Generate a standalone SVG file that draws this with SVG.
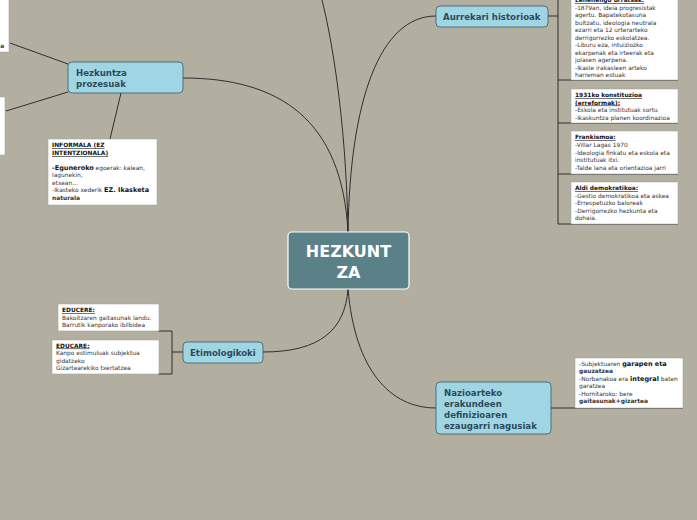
<svg xmlns="http://www.w3.org/2000/svg" width="697" height="520" viewBox="0 0 697 520">
<style>
.bg{fill:#b3afa0}
.main rect{fill:#5b8188;stroke:#ffffff;stroke-width:1.2}
.main text{fill:#ffffff;font-family:"DejaVu Sans",sans-serif;font-weight:bold;font-size:16px;text-anchor:middle}
.topic rect{fill:#a0d6e4;stroke:#3d5866;stroke-width:0.8}
.topic text{fill:#2e4a5a;font-family:"DejaVu Sans",sans-serif;font-weight:bold;font-size:8.6px}
.note rect{fill:#ffffff;stroke:#9a9a9a;stroke-width:0.5}
.note text{fill:#333333;font-family:"DejaVu Sans",sans-serif;font-size:5.9px}
.note .h{font-weight:bold;text-decoration:underline;fill:#111}
.b{font-weight:bold;fill:#111;font-size:6.5px}
.conn path,.conn line{fill:none;stroke:#2e2e2e;stroke-width:1}
</style>
<rect class="bg" x="0" y="0" width="697" height="520"/>
<g class="conn">
<path d="M348,232 C346,120 332,40 322,0"/>
<path d="M348,232 C350,100 380,16 436,16"/>
<path d="M348,232 C342,120 280,78 183,78"/>
<path d="M348,289 C345,330 320,352 263,352"/>
<path d="M348,289 C355,370 390,408 436,408"/>
<line x1="548" y1="16" x2="558" y2="16"/>
<line x1="558" y1="0" x2="558" y2="224"/>
<line x1="558" y1="80" x2="678" y2="80"/>
<line x1="558" y1="123" x2="678" y2="123"/>
<line x1="558" y1="174" x2="678" y2="174"/>
<line x1="558" y1="224" x2="678" y2="224"/>
<line x1="68" y1="64" x2="10" y2="43"/>
<line x1="68" y1="92" x2="6" y2="111"/>
<line x1="121" y1="93" x2="110" y2="139"/>
<line x1="183" y1="352" x2="172" y2="352"/>
<line x1="172" y1="331" x2="172" y2="374"/>
<line x1="158" y1="331" x2="172" y2="331"/>
<line x1="158" y1="374" x2="172" y2="374"/>
<line x1="551" y1="408" x2="683" y2="408"/>
</g>
<g id="n-left1" class="note"><rect x="-5" y="-2" width="14" height="54"/><text x="-3" y="25">\</text><text x="-6" y="48" class="b">ma</text></g>
<g id="n-left2" class="note"><rect x="-5" y="97" width="10" height="58"/></g>
<g id="n-center" class="main"><rect x="288" y="232" width="121" height="57" rx="4"/><text x="348.5" y="257">HEZKUNT</text><text x="348.5" y="278">ZA</text></g>
<g id="n-aurrekari" class="topic"><rect x="436" y="6" width="112" height="21" rx="4"/><text x="443" y="20">Aurrekari historioak</text></g>
<g id="n-hezkuntza" class="topic"><rect x="68" y="62" width="115" height="31" rx="4"/><text x="76" y="76">Hezkuntza</text><text x="76" y="87">prozesuak</text></g>
<g id="n-nazioarteko" class="topic"><rect x="436" y="382" width="115" height="52" rx="4"/><text x="444" y="396">Nazioarteko</text><text x="444" y="407">erakundeen</text><text x="444" y="418">definizioaren</text><text x="444" y="428.5">ezaugarri nagusiak</text></g>
<g id="n-etimo" class="topic"><rect x="183" y="342" width="80" height="21" rx="4"/><text x="190" y="356">Etimologikoki</text></g>
<g id="n-box1" class="note"><rect x="571" y="-4" width="107" height="84"/>
<text x="575" y="2" class="h">Lehenengo urratsak:</text>
<text x="575" y="9.5">-1879an, ideia progresistak</text>
<text x="575" y="17">agertu. Bapatekotasuna</text>
<text x="575" y="24.5">bultzatu, ideologia neutrala</text>
<text x="575" y="32">ezarri eta 12 urterarteko</text>
<text x="575" y="39.5">derrigorrezko eskolatzea.</text>
<text x="575" y="47">-Liburu eza, intuiziozko</text>
<text x="575" y="54.5">ekarpenak eta irteerak eta</text>
<text x="575" y="62">jolasen agerpena.</text>
<text x="575" y="69.5">-Ikasle irakasleen arteko</text>
<text x="575" y="77">harreman estuak</text></g>
<g id="n-box2" class="note"><rect x="571" y="89" width="107" height="34"/>
<text x="575" y="97" class="h">1931ko konstituzioa</text>
<text x="575" y="104.5" class="h">(erreformak):</text>
<text x="575" y="112">-Eskola eta institutuak sortu</text>
<text x="575" y="119.5">-Ikaskuntza planen koordinazioa</text></g>
<g id="n-box3" class="note"><rect x="571" y="131" width="107" height="43"/>
<text x="575" y="139" class="h">Frankismoa:</text>
<text x="575" y="147">-Villar Lagas 1970</text>
<text x="575" y="154.5">-Ideologia finkatu eta eskola eta</text>
<text x="575" y="162">institutuak itxi.</text>
<text x="575" y="170">-Talde lana eta orientazioa jarri</text></g>
<g id="n-box4" class="note"><rect x="571" y="182" width="107" height="42"/>
<text x="575" y="190" class="h">Aldi demokratikoa:</text>
<text x="575" y="197.5">-Gestio demokratikoa eta askea</text>
<text x="575" y="205">-Errespetuzko baloreak</text>
<text x="575" y="212.5">-Derrigorrezko hezkunta eta</text>
<text x="575" y="220">dohaia.</text></g>
<g id="n-informala" class="note"><rect x="48" y="139" width="109" height="66"/>
<text x="52" y="147" class="h">INFORMALA (EZ</text>
<text x="52" y="155" class="h">INTENTZIONALA)</text>
<text x="52" y="170"><tspan class="b">-Eguneroko</tspan> egoerak: kalean,</text>
<text x="52" y="177">lagunekin,</text>
<text x="52" y="185">etxean...</text>
<text x="52" y="192">-Ikasteko xederik <tspan class="b">EZ. Ikasketa</tspan></text>
<text x="52" y="200" class="b">naturala</text></g>
<g id="n-educere" class="note"><rect x="58" y="304" width="101" height="27"/>
<text x="62" y="312" class="h">EDUCERE:</text>
<text x="62" y="319.5">Bakoitzaren gaitasunak landu.</text>
<text x="62" y="327">Barrutik kanporako ibilbidea</text></g>
<g id="n-educare" class="note"><rect x="52" y="340" width="107" height="34"/>
<text x="56" y="347.5" class="h">EDUCARE:</text>
<text x="56" y="355">Kanpo estimuluak subjektua</text>
<text x="56" y="362.5">gidatzeko</text>
<text x="56" y="370">Gizartearekiko txertatzea</text></g>
<g id="n-ezaugarri" class="note"><rect x="575" y="358" width="108" height="50"/>
<text x="579" y="366">-Subjektuaren <tspan class="b">garapen eta</tspan></text>
<text x="579" y="373" class="b">gauzatzea</text>
<text x="579" y="381">-Norbanakoa era <tspan class="b">integral</tspan> baten</text>
<text x="579" y="388">garatzea</text>
<text x="579" y="396">-Hornitaroko: bere</text>
<text x="579" y="403" class="b">gaitasunak+gizartea</text></g>
</svg>
